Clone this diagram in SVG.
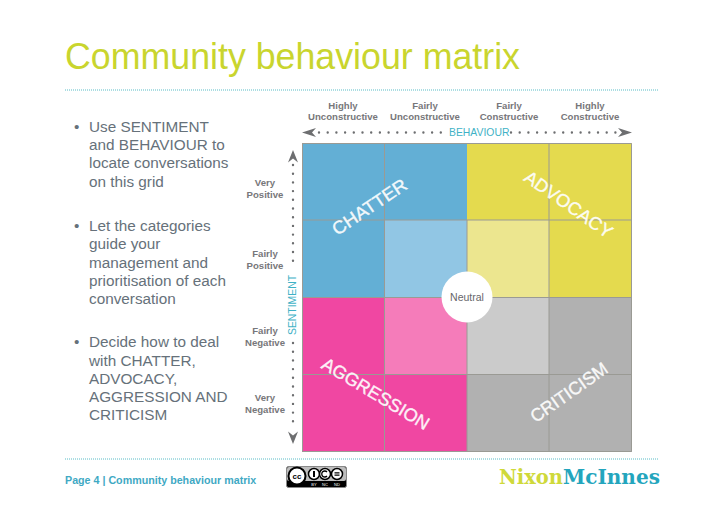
<svg xmlns="http://www.w3.org/2000/svg" width="728" height="515" viewBox="0 0 728 515">
<style>
text{font-family:"Liberation Sans",Arial,sans-serif}
.body{font-size:15.3px;fill:#66717a}
.ax{font-size:9.6px;font-weight:bold;fill:#77777a;text-anchor:middle}
.ql{font-size:18px;fill:#fff;stroke:#fff;stroke-width:.35;text-anchor:middle;opacity:.92}
.sep{stroke:#59bcc6;stroke-width:1;stroke-dasharray:1 1;fill:none}
.dots{stroke:#6d6e70;stroke-width:2.4;stroke-linecap:round;stroke-dasharray:0 8.7;fill:none}
.tick{stroke:#9a9a94;stroke-width:1;fill:none}
.cap{font-size:10.4px;fill:#3fb2c6}
</style>
<rect width="728" height="515" fill="#fff"/>
<text x="65" y="69" font-size="36.5" fill="#c9d52e" textLength="455" lengthAdjust="spacingAndGlyphs">Community behaviour matrix</text>
<path class="sep" d="M65 90H658M65 459H658"/>
<g id="bullets" class="body">
<text x="74" y="132">•</text><text x="89" y="132">Use SENTIMENT</text><text x="89" y="150">and BEHAVIOUR to</text><text x="89" y="168">locate conversations</text><text x="89" y="187">on this grid</text>
<text x="74" y="231">•</text><text x="89" y="231">Let the categories</text><text x="89" y="249">guide your</text><text x="89" y="268">management and</text><text x="89" y="286">prioritisation of each</text><text x="89" y="304">conversation</text>
<text x="74" y="347">•</text><text x="89" y="347">Decide how to deal</text><text x="89" y="366">with CHATTER,</text><text x="89" y="384">ADVOCACY,</text><text x="89" y="402">AGGRESSION AND</text><text x="89" y="420">CRITICISM</text>
</g>
<g id="grid">
<rect x="302" y="143" width="165" height="154.500" fill="#63afd5"/>
<rect x="467" y="143" width="165" height="154.500" fill="#e4da4e"/>
<rect x="302" y="297.500" width="165" height="154.500" fill="#f047a2"/>
<rect x="467" y="297.500" width="165" height="154.500" fill="#b1b1b1"/>
<rect x="384.500" y="220" width="82.500" height="77.500" fill="#91c6e4"/>
<rect x="467" y="220" width="82" height="77.500" fill="#ece68f"/>
<rect x="384.500" y="297.500" width="82.500" height="77" fill="#f57cba"/>
<rect x="467" y="297.500" width="82" height="77" fill="#cbcbcb"/>
<path class="tick" d="M302 143.500H631.500V451.500H302.500V143.500M384.500 143V452M467 220V452M549 143V452M302 220H632M302 297.500H632M302 374.500H632"/>
</g>
<g id="quadrant-labels">
<text class="ql" transform="translate(373 212) rotate(-34)" textLength="86" lengthAdjust="spacingAndGlyphs">CHATTER</text>
<text class="ql" transform="translate(565 209.500) rotate(35)" textLength="103" lengthAdjust="spacingAndGlyphs">ADVOCACY</text>
<text class="ql" transform="translate(372.500 399) rotate(31)" textLength="122" lengthAdjust="spacingAndGlyphs">AGGRESSION</text>
<text class="ql" transform="translate(572.500 397.500) rotate(-35)" textLength="90" lengthAdjust="spacingAndGlyphs">CRITICISM</text>
</g>
<g id="neutral">
<circle cx="467" cy="297" r="25.500" fill="#fff"/>
<text x="467" y="301" font-size="10.500" fill="#66666a" text-anchor="middle">Neutral</text>
</g>
<g id="axis-labels">
<text class="ax" x="343" y="109">Highly</text><text class="ax" x="343" y="120">Unconstructive</text>
<text class="ax" x="425" y="109">Fairly</text><text class="ax" x="425" y="120">Unconstructive</text>
<text class="ax" x="509" y="109">Fairly</text><text class="ax" x="509" y="120">Constructive</text>
<text class="ax" x="590" y="109">Highly</text><text class="ax" x="590" y="120">Constructive</text>
<text class="ax" x="265" y="186">Very</text><text class="ax" x="265" y="198">Positive</text>
<text class="ax" x="265" y="257">Fairly</text><text class="ax" x="265" y="269">Positive</text>
<text class="ax" x="265" y="334">Fairly</text><text class="ax" x="265" y="346">Negative</text>
<text class="ax" x="265" y="401">Very</text><text class="ax" x="265" y="413">Negative</text>
</g>
<g id="connectors">
<path class="dots" d="M319 132.500H445M511 132.500H620"/>
<path class="dots" d="M293 165V264M293 343V426"/>
<path d="M302 132.500L316 128L312 132.500L316 137Z" fill="#6d6e70"/>
<path d="M632 132.500L618 128L622 132.500L618 137Z" fill="#6d6e70"/>
<path d="M293 150L298 162.500L293 158.500L288 162.500Z" fill="#6d6e70"/>
<path d="M293 444L298 431.500L293 435.500L288 431.500Z" fill="#6d6e70"/>
<text class="cap" x="449" y="136">BEHAVIOUR</text>
<text class="cap" transform="translate(296 335) rotate(-90)">SENTIMENT</text>
</g>
<text id="footer" x="65" y="484" font-size="10.700" font-weight="bold" fill="#3fa9c4">Page 4 | Community behaviour matrix</text>
<g id="cc-badge">
<rect x="286.500" y="466.500" width="60" height="21" rx="2" fill="#000" stroke="#888"/>
<rect x="287" y="467" width="59" height="14" rx="2" fill="#bdbdbd"/>
<circle cx="297" cy="476" r="8.500" fill="#fff" stroke="#000" stroke-width="2"/>
<text x="297" y="479" font-size="8" font-weight="bold" fill="#000" text-anchor="middle">cc</text>
<circle cx="314" cy="474" r="5.500" fill="#fff" stroke="#000" stroke-width="1.500"/>
<path d="M314 471V477" stroke="#000" stroke-width="2"/>
<circle cx="325" cy="474" r="5.500" fill="#fff" stroke="#000" stroke-width="1.500"/>
<path d="M327 472A3 3 0 1 0 327 476" stroke="#000" stroke-width="1.300" fill="none"/>
<circle cx="337" cy="474" r="5.500" fill="#fff" stroke="#000" stroke-width="1.500"/>
<path d="M334.500 472.800H339.500M334.500 475.200H339.500" stroke="#000" stroke-width="1.200"/>
<text x="314" y="486" font-size="4" fill="#fff" text-anchor="middle">BY</text>
<text x="325" y="486" font-size="4" fill="#fff" text-anchor="middle">NC</text>
<text x="337" y="486" font-size="4" fill="#fff" text-anchor="middle">ND</text>
</g>
<g id="logo" font-size="20" font-weight="bold">
<text x="499" y="484" style="font-family:'DejaVu Serif',serif" fill="#cfd93a" textLength="64" lengthAdjust="spacingAndGlyphs">Nixon</text>
<text x="563" y="484" style="font-family:'DejaVu Serif',serif" fill="#23a5bd" textLength="97" lengthAdjust="spacingAndGlyphs">McInnes</text>
</g>
</svg>
